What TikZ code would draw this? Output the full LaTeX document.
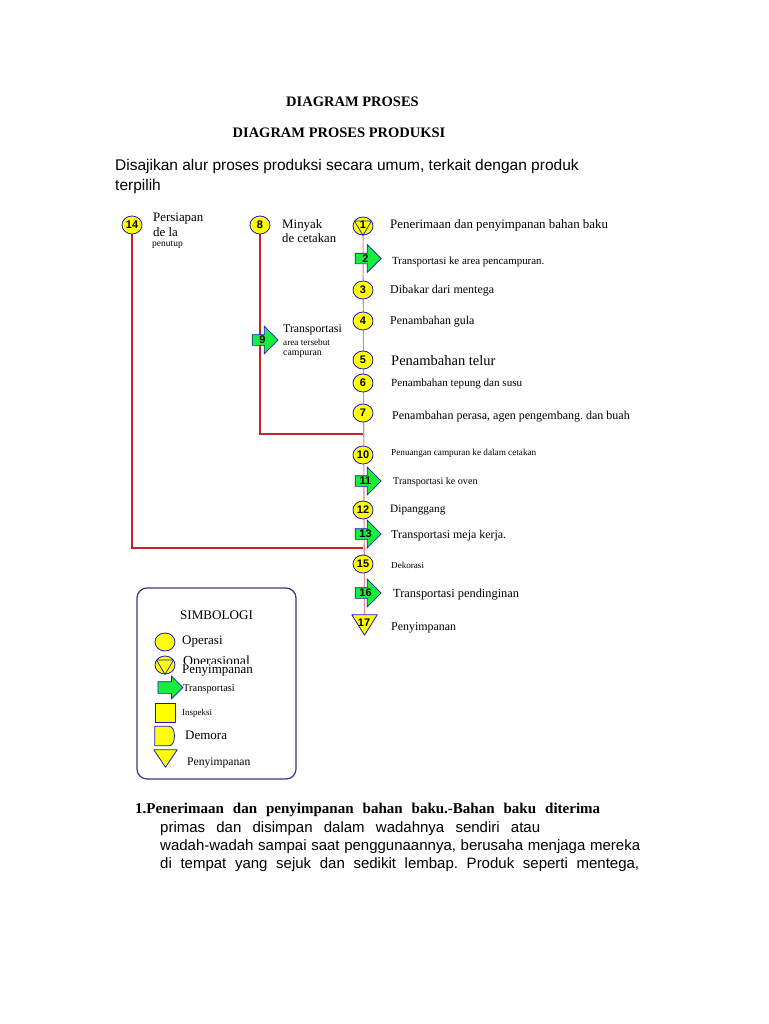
\documentclass[tikz,border=0pt]{standalone}
\usepackage{fontspec}
\setmainfont{Liberation Serif}
\setsansfont{Liberation Sans}
\usetikzlibrary{shapes.geometric,shapes.arrows,backgrounds}
\definecolor{symyellow}{RGB}{255,255,0}
\definecolor{symblue}{RGB}{25,25,190}
\definecolor{arrowgreen}{RGB}{20,240,60}
\definecolor{mainline}{RGB}{225,140,140}
\definecolor{redline}{RGB}{200,35,45}
\definecolor{boxblue}{RGB}{55,55,130}
\newcommand{\fsz}[1]{\fontsize{#1}{#1}\selectfont}
\frenchspacing
\begin{document}
\begin{tikzpicture}[x=1pt,y=-1pt,
  op/.style={ellipse, draw=symblue, fill=symyellow, line width=0.8pt, minimum width=20pt, minimum height=18pt, inner sep=0pt},
  num/.style={inner sep=0pt, font=\sffamily\bfseries\fsz{11}},
  tr/.style={single arrow, draw=symblue, fill=arrowgreen, line width=0.7pt, minimum height=26pt, single arrow head extend=8.5pt, text height=7pt, text depth=0pt, inner ysep=1.5pt, inner xsep=0pt, font=\sffamily\bfseries\fsz{11}},
  lab/.style={anchor=west, inner sep=0pt},
  mline/.style={draw=mainline, line width=1.1pt},
  rline/.style={draw=redline, line width=1.1pt},
  ytri/.style={fill=symyellow, draw=symblue, line width=0.8pt, line join=round}
]
\useasboundingbox (0,0) rectangle (768,1024);

% titles
\node[inner sep=0pt, font=\bfseries\fsz{14.5}] (title1) at (352.5,102) {DIAGRAM PROSES};
\node[inner sep=0pt, font=\bfseries\fsz{14.5}] (title2) at (339,133) {DIAGRAM PROSES PRODUKSI};
\node[lab, font=\sffamily\fsz{15.5}] (intro1) at (115,166) {Disajikan alur proses produksi secara umum, terkait dengan produk};
\node[lab, font=\sffamily\fsz{15.5}] (intro2) at (115,186) {terpilih};

% main column symbols
\node[op] (n1) at (363,226) {};
\draw[symblue, line width=0.7pt, line join=round] ([xshift=-8.5pt,yshift=5pt]n1.center) -- ([xshift=8.5pt,yshift=5pt]n1.center) -- (n1.south) -- cycle;
\node[num] (n1t) at (363,225) {1};
\node[tr] (n2) at (365.5,258.5) {2};
\node[op, font=\sffamily\bfseries\fsz{11}] (n3) at (363,290) {3};
\node[op, font=\sffamily\bfseries\fsz{11}] (n4) at (363,321) {4};
\node[op, font=\sffamily\bfseries\fsz{11}] (n5) at (363,360) {5};
\node[op, font=\sffamily\bfseries\fsz{11}] (n6) at (363,383) {6};
\node[op, font=\sffamily\bfseries\fsz{11}] (n7) at (363,413) {7};
\node[op, font=\sffamily\bfseries\fsz{11}] (n10) at (363,455) {10};
\node[tr] (n11) at (365.5,481) {11};
\node[op, font=\sffamily\bfseries\fsz{11}] (n12) at (363,510) {12};
\node[tr] (n13) at (365.5,534) {13};
\node[op, font=\sffamily\bfseries\fsz{11}] (n15) at (363,564) {15};
\node[tr] (n16) at (365.5,593) {16};
\node[minimum width=25pt, minimum height=20pt, inner sep=0pt] (n17) at (364.5,625) {};
\path[ytri] (n17.north west) -- (n17.north east) -- (n17.south) -- cycle;
\node[num] (n17t) at (364,623) {17};

% side columns
\node[op, font=\sffamily\bfseries\fsz{11}] (n14) at (132,225) {14};
\node[op, font=\sffamily\bfseries\fsz{11}] (n8) at (260,225) {8};
\node[tr] (n9) at (262.5,340) {9};
\coordinate (j8) at (363,434);
\coordinate (j14) at (363,548);

\begin{scope}[on background layer]
  \draw[mline] (n1) -- (n17);
  \draw[rline] (n8) |- (j8);
  \draw[rline] (n14) |- (j14);
\end{scope}

% labels main column
\node[lab, font=\fsz{12.9}] (t1) at (390,225) {Penerimaan dan penyimpanan bahan baku};
\node[lab, font=\fsz{10.9}] (t2) at (392,262) {Transportasi ke area pencampuran.};
\node[lab, font=\fsz{12}] (t3) at (390,291) {Dibakar dari mentega};
\node[lab, font=\fsz{11.9}] (t4) at (390,322) {Penambahan gula};
\node[lab, font=\fsz{14.5}] (t5) at (391,361) {Penambahan telur};
\node[lab, font=\fsz{11.1}] (t6) at (391,384) {Penambahan tepung dan susu};
\node[lab, font=\fsz{12}] (t7) at (392,417) {Penambahan perasa, agen pengembang. dan buah};
\node[lab, font=\fsz{9.2}] (t10) at (391,453) {Penuangan campuran ke dalam cetakan};
\node[lab, font=\fsz{10.1}] (t11) at (393,482) {Transportasi ke oven};
\node[lab, font=\fsz{11.3}] (t12) at (390,510) {Dipanggang};
\node[lab, font=\fsz{11.9}] (t13) at (391,536) {Transportasi meja kerja.};
\node[lab, font=\fsz{9.1}] (t15) at (391,565) {Dekorasi};
\node[lab, font=\fsz{12.4}] (t16) at (393,595) {Transportasi pendinginan};
\node[lab, font=\fsz{11.9}] (t17) at (391,628) {Penyimpanan};

% labels side columns
\node[lab, font=\fsz{12.9}] (t14a) at (153,219) {Persiapan};
\node[lab, font=\fsz{12.9}] (t14b) at (153,232) {de la};
\node[lab, font=\fsz{9.5}] (t14c) at (152,245) {penutup};
\node[lab, font=\fsz{12.9}] (t8a) at (282,225) {Minyak};
\node[lab, font=\fsz{12.7}] (t8b) at (282,238) {de cetakan};
\node[lab, font=\fsz{11.8}] (t9a) at (283,330) {Transportasi};
\node[lab, font=\fsz{9.2}] (t9b) at (283,342) {area tersebut};
\node[lab, font=\fsz{9.8}] (t9c) at (283,354) {campuran};

% legend
\node[draw=boxblue, line width=1.2pt, rounded corners=10pt, minimum width=159pt, minimum height=191pt, inner sep=0pt] (legend) at (216.5,683.5) {};
\node[inner sep=0pt, font=\fsz{13.1}] (lgtitle) at (216.5,615) {SIMBOLOGI};
\node[op] (lg1) at (165,642) {};
\node[lab, font=\fsz{13}] (lg1t) at (182,642) {Operasi};
\node[op] (lg2) at (165,665) {};
\draw[symblue, line width=0.7pt, line join=round] ([xshift=-8.5pt,yshift=5pt]lg2.center) -- ([xshift=8.5pt,yshift=5pt]lg2.center) -- (lg2.south) -- cycle;
\node[lab, font=\fsz{13.8}] (lg2t) at (183,662) {Operasional};
\node[lab, font=\fsz{13}, fill=white, inner ysep=1.2pt] (lg2u) at (182,670.5) {Penyimpanan};
\node[single arrow, draw=symblue, fill=arrowgreen, line width=0.7pt, minimum height=25pt, single arrow head extend=5.5pt, text height=8pt, text depth=0pt, inner ysep=1.5pt, inner xsep=0pt] (lg3) at (167.5,687.5) {};
\node[lab, font=\fsz{10.4}] (lg3t) at (183,689) {Transportasi};
\node[draw=symblue, fill=symyellow, line width=0.8pt, minimum width=20pt, minimum height=19pt, inner sep=0pt] (lg4) at (165,712.5) {};
\node[lab, font=\fsz{9}] (lg4t) at (182,713) {Inspeksi};
\node[minimum width=20pt, minimum height=19pt, inner sep=0pt] (lg5) at (165,736) {};
\path[ytri] (lg5.south west) -- (lg5.north west) -- ([xshift=-6pt]lg5.north east) .. controls ([xshift=1pt]lg5.north east) and ([xshift=1pt]lg5.south east) .. ([xshift=-6pt]lg5.south east) -- cycle;
\node[lab, font=\fsz{13}] (lg5t) at (185,735) {Demora};
\node[minimum width=23pt, minimum height=17pt, inner sep=0pt] (lg6) at (165.5,758.5) {};
\path[ytri] (lg6.north west) -- (lg6.north east) -- (lg6.south) -- cycle;
\node[lab, font=\fsz{11.6}] (lg6t) at (187,763) {Penyimpanan};

% bottom text
\node[lab, font=\bfseries\fsz{15}] (p1) at (135,810) {\makebox[465pt][s]{1.Penerimaan dan penyimpanan bahan baku.-Bahan baku diterima}};
\node[lab, font=\sffamily\fsz{15}] (p2) at (160,829) {\makebox[380pt][s]{primas dan disimpan dalam wadahnya sendiri atau}};
\node[lab, font=\sffamily\fsz{15}] (p3) at (160,847) {\makebox[480pt][s]{wadah-wadah sampai saat penggunaannya, berusaha menjaga mereka}};
\node[lab, font=\sffamily\fsz{15}] (p4) at (160,865) {\makebox[479pt][s]{di tempat yang sejuk dan sedikit lembap. Produk seperti mentega,}};
\end{tikzpicture}
\end{document}
